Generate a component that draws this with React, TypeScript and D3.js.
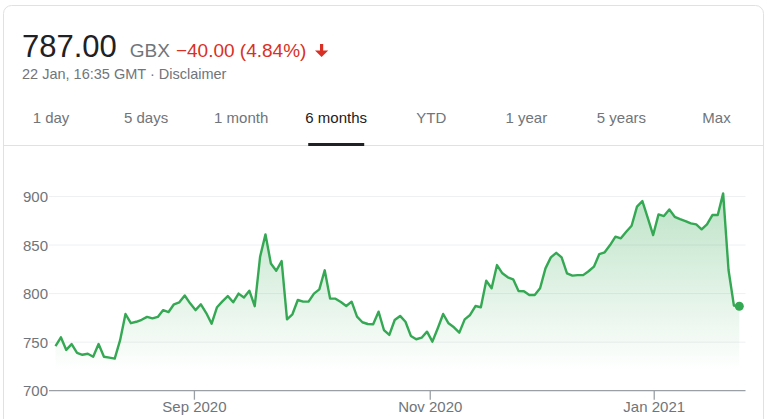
import { useEffect, useRef } from "react";
import * as d3 from "d3";

// daily closes, GBX (late Jul 2020 -> 22 Jan 2021)
const prices = [
  746, 755, 742, 748, 739, 737, 738, 735, 748, 735, 734, 733, 752, 779, 769.5, 771, 773, 776,
  774.5, 776, 783, 781, 789, 791, 798, 790, 783, 789, 780, 769, 786, 792, 797.5,
  791, 800, 796, 803, 787, 838, 861, 831, 823.5, 833.5, 773.5, 778.7, 793.4, 791.7, 791.7, 800,
  804.4, 824, 794.8, 794.8, 791.4, 787.2, 791.7, 776.2, 770.5, 768.7, 768.4, 781.4, 762.5, 757.4,
  772.8, 777,
  771, 756.4, 753, 754.6, 760.8, 750.5, 764.3, 779, 769.4, 765.3, 759.8, 773.5, 778, 787.2, 785.9,
  813.3, 805.5, 829.4, 820.9, 816.8, 814.7, 802.7, 802.4, 798.6, 798.6, 805.5, 826, 837.3, 842,
  837.3, 820.9,
  818.5, 819, 819, 823, 827.7, 840.7, 842.5, 850, 858.6, 856.9, 863.7, 869.9, 889.5, 895.3, 878,
  860.3, 881.6, 879.8, 886.7, 879.1, 876.7, 874.7, 872.3, 871.3, 866.2, 871.3, 880.9, 880.9,
  903.2, 824.3, 787.6, 787,
];

const yTicks = [700, 750, 800, 850, 900];
// month ticks sit between trading-day indices
const monthLabels = ["Sep 2020", "Nov 2020", "Jan 2021"];
const monthIdx = [25.8, 69.6, 111.2];

const tabs = ["1 day", "5 days", "1 month", "6 months", "YTD", "1 year", "5 years", "Max"];
const activeTab = "6 months";

const FONT = "'Liberation Sans', Arial, sans-serif";
const GREEN = "#34a853";
const GREY = "#70757a";
const RED = "#d93025";

export default function App() {
  const svgRef = useRef<SVGSVGElement>(null);

  useEffect(() => {
    const svg = d3.select(svgRef.current);
    svg.selectAll("*").remove();
    const width = 768, height = 419;
    svg.attr("width", width).attr("height", height).style("font-family", FONT);

    // card
    svg.append("rect")
      .attr("x", 3.5).attr("y", 5.5)
      .attr("width", 760).attr("height", 440)
      .attr("rx", 8)
      .attr("fill", "#fff").attr("stroke", "#dfe1e5");

    // header
    const head = svg.append("text").attr("x", 22).attr("y", 57);
    head.append("tspan").attr("font-size", 31).attr("fill", "#202124").text("787.00");
    head.append("tspan").attr("dx", 13).attr("font-size", 19).attr("fill", GREY).text("GBX");
    head.append("tspan").attr("dx", 6).attr("font-size", 19).attr("fill", RED).text("\u221240.00 (4.84%)");

    // down arrow
    svg.append("path")
      .attr("d", "M320,44 h3.2 v6.5 h5 l-6.6,6.5 l-6.6,-6.5 h5 z")
      .attr("fill", RED);

    svg.append("text")
      .attr("x", 22).attr("y", 79)
      .attr("font-size", 14.5).attr("fill", GREY)
      .text("22 Jan, 16:35 GMT \u00b7 Disclaimer");

    // tabs
    const tabX = d3.scalePoint<string>().domain(tabs).range([51, 716.5]);
    svg.selectAll("text.tab")
      .data(tabs)
      .join("text")
      .attr("class", "tab")
      .attr("x", d => tabX(d)!).attr("y", 123)
      .attr("text-anchor", "middle")
      .attr("font-size", 15)
      .attr("fill", d => (d === activeTab ? "#202124" : GREY))
      .text(d => d);
    svg.append("line")
      .attr("x1", 4).attr("x2", 763)
      .attr("y1", 145.5).attr("y2", 145.5)
      .attr("stroke", "#dfe1e5");
    svg.append("rect")
      .attr("x", tabX(activeTab)! - 28).attr("y", 143)
      .attr("width", 56).attr("height", 3)
      .attr("fill", "#202124");

    // chart
    const x = d3.scaleLinear().domain([0, prices.length - 1]).range([55.5, 739.3]);
    const y = d3.scaleLinear().domain([700, 900]).range([390.7, 196.5]);
    const x0 = 49, x1 = 745.5;

    const defs = svg.append("defs");
    const grad = defs.append("linearGradient")
      .attr("id", "areaFill")
      .attr("gradientUnits", "userSpaceOnUse")
      .attr("x1", 0).attr("x2", 0)
      .attr("y1", y(900)).attr("y2", y(720));
    grad.append("stop").attr("offset", 0).attr("stop-color", GREEN).attr("stop-opacity", 0.32);
    grad.append("stop").attr("offset", 1).attr("stop-color", GREEN).attr("stop-opacity", 0);

    // grid
    svg.selectAll("line.grid")
      .data(yTicks.filter(t => t !== 700))
      .join("line")
      .attr("class", "grid")
      .attr("x1", x0).attr("x2", x1)
      .attr("y1", d => y(d)).attr("y2", d => y(d))
      .attr("stroke", "#eef0f2");

    svg.selectAll("text.ylab")
      .data(yTicks)
      .join("text")
      .attr("class", "ylab")
      .attr("x", 48).attr("y", d => y(d) + 5.5)
      .attr("text-anchor", "end")
      .attr("font-size", 15).attr("fill", GREY)
      .text(d => d);

    // area + line
    const area = d3.area<number>()
      .x((_, i) => x(i))
      .y0(y(700))
      .y1(d => y(d));
    svg.append("path").datum(prices).attr("d", area).attr("fill", "url(#areaFill)");

    const line = d3.line<number>().x((_, i) => x(i)).y(d => y(d));
    svg.append("path").datum(prices)
      .attr("d", line)
      .attr("fill", "none")
      .attr("stroke", GREEN)
      .attr("stroke-width", 2.4)
      .attr("stroke-linejoin", "round");

    const last = prices.length - 1;
    svg.append("circle")
      .attr("cx", x(last)).attr("cy", y(prices[last]))
      .attr("r", 4.5).attr("fill", GREEN);

    // x axis
    svg.append("line")
      .attr("x1", x0).attr("x2", x1)
      .attr("y1", y(700)).attr("y2", y(700))
      .attr("stroke", "#9aa0a6").attr("stroke-width", 1.3);
    svg.selectAll("line.xtick")
      .data(monthIdx)
      .join("line")
      .attr("class", "xtick")
      .attr("x1", d => x(d)).attr("x2", d => x(d))
      .attr("y1", y(700)).attr("y2", y(700) + 9)
      .attr("stroke", "#9aa0a6").attr("stroke-width", 1.3);
    svg.selectAll("text.xlab")
      .data(monthIdx)
      .join("text")
      .attr("class", "xlab")
      .attr("x", d => x(d)).attr("y", 412)
      .attr("text-anchor", "middle")
      .attr("font-size", 15).attr("fill", GREY)
      .text((_, i) => monthLabels[i]);
  }, []);

  return <svg ref={svgRef} style={{ position: "absolute", left: 0, top: 0, background: "#fff" }} />;
}
